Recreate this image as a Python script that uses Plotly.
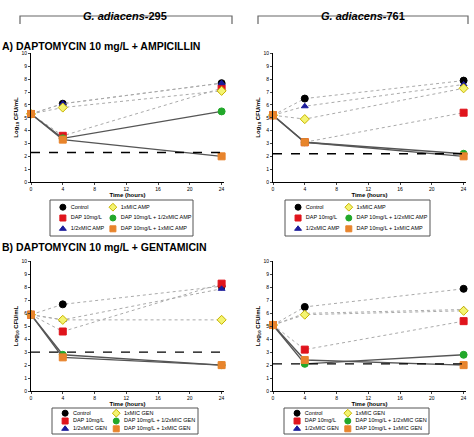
import plotly.graph_objects as go

times = [0, 4, 24]
series_names = ["Control", "DAP 10mg/L", "1/2xMIC {d}", "1xMIC {d}", "DAP 10mg/L + 1/2xMIC {d}", "DAP 10mg/L + 1xMIC {d}"]
# panel values: order Control, DAP, 1/2xMIC, 1xMIC, DAP+1/2, DAP+1x
a295 = [[5.3, 6.1, 7.7], [5.3, 3.6, 7.3], [5.3, 6.1, 7.7], [5.3, 5.8, 7.1], [5.3, 3.4, 5.5], [5.3, 3.3, 2.0]]
a761 = [[5.2, 6.5, 7.9], [5.2, 3.1, 5.4], [5.2, 5.9, 7.6], [5.2, 4.9, 7.3], [5.2, 3.1, 2.2], [5.2, 3.1, 2.0]]
b295 = [[5.9, 6.7, 8.1], [5.9, 4.6, 8.3], [5.9, 5.5, 7.9], [5.9, 5.5, 5.5], [5.9, 2.8, 2.0], [5.9, 2.6, 2.0]]
b761 = [[5.1, 6.5, 7.9], [5.1, 3.2, 5.4], [5.1, 6.0, 6.3], [5.1, 5.9, 6.2], [5.1, 2.1, 2.8], [5.1, 2.4, 2.0]]
limits = [2.3, 2.2, 3.0, 2.1]
hash_marks = [[7.3, 5.5], [5.4], [8.3], [5.4, 2.8]]
drugs = ["AMP", "AMP", "GEN", "GEN"]
panels = [a295, a761, b295, b761]

markers = ["circle", "square", "triangle-up", "diamond", "circle", "square"]
colors = ["#000000", "#e0141c", "#1c1c9c", "#f4f470", "#22a82a", "#e8842c"]
lines = ["dot", "dot", "dot", "dot", "solid", "solid"]
lcol = ["#aaaaaa"] * 4 + ["#555555"] * 2

H = 437
W = 474
def py(px):
    return 1 - px / H

xdoms = [(31/W, 224/W), (273/W, 466/W)]
ydoms = [(py(182), py(53)), (py(391), py(261))]
legend_boxes = [(50, 193, 200, 236), (285, 430, 200, 236), (52, 198, 408, 434), (284, 429, 408, 434)]

def mk(i, size=6):
    return dict(symbol=markers[i], color=colors[i], size=size,
                line=dict(color="#c8b400" if i == 3 else colors[i], width=1))

fig = go.Figure()
lay = {}
n = 0
for p in range(4):
    col = p % 2
    row = p // 2
    n += 1
    xa = "x" if n == 1 else f"x{n}"
    ya = "y" if n == 1 else f"y{n}"
    for i in range(6):
        fig.add_trace(go.Scatter(
            x=times, y=panels[p][i], mode="lines+markers", xaxis=xa, yaxis=ya,
            line=dict(color=lcol[i], dash=lines[i], width=1 if i < 4 else 1.4),
            marker=mk(i, 7 if i != 2 else 6), cliponaxis=False))
    fig.add_trace(go.Scatter(x=[0, 24], y=[limits[p]] * 2, mode="lines", xaxis=xa, yaxis=ya,
                             line=dict(color="black", dash="dash", width=1.3)))
    fig.add_trace(go.Scatter(x=[25.0] * len(hash_marks[p]), y=hash_marks[p], mode="text", text=["#"] * len(hash_marks[p]),
                             textfont=dict(size=6, color="black"), xaxis=xa, yaxis=ya, cliponaxis=False))
    axn = "" if n == 1 else str(n)
    lay[f"xaxis{axn}"] = dict(domain=xdoms[col], anchor=ya, range=[0, 24.3], tickvals=[0, 4, 8, 12, 16, 20, 24],
                              showline=True, linecolor="black", ticks="outside", ticklen=2, tickfont=dict(size=5),
                              showgrid=False, zeroline=False, automargin=False,
                              title=dict(text="<b>Time (hours)</b>", font=dict(size=6), standoff=1))
    lay[f"yaxis{axn}"] = dict(domain=ydoms[row], anchor=xa, range=[0, 10.05], tickvals=list(range(11)),
                              showline=True, linecolor="black", ticks="outside", ticklen=2, tickfont=dict(size=5),
                              showgrid=False, zeroline=False, automargin=False,
                              title=dict(text="<b>Log<sub>10</sub> CFU/mL</b>", font=dict(size=6), standoff=2))
    # manual legend in its own axes
    n += 1
    lxa, lya = f"x{n}", f"y{n}"
    x0, x1, y0, y1 = legend_boxes[p]
    lay[f"xaxis{n}"] = dict(domain=(x0/W, x1/W), anchor=lya, range=[0, 1], visible=False, fixedrange=True, automargin=False)
    lay[f"yaxis{n}"] = dict(domain=(py(y1), py(y0)), anchor=lxa, range=[0, 1], visible=False, fixedrange=True, automargin=False)
    for i in range(6):
        c = i // 3
        r = i % 3
        yy = 0.8 - r * 0.3
        xm = 0.09 + c * 0.35
        fig.add_trace(go.Scatter(x=[xm], y=[yy], mode="markers+text", xaxis=lxa, yaxis=lya,
                                 marker=mk(i, 6), text=["  " + series_names[i].format(d=drugs[p])],
                                 textposition="middle right", textfont=dict(size=5.5), cliponaxis=False))
    fig.add_shape(type="rect", xref="paper", yref="paper", x0=x0/W, x1=x1/W, y0=py(y1), y1=py(y0),
                  line=dict(color="#555", width=1))

fig.update_layout(width=W, height=H, margin=dict(l=0, r=0, t=0, b=0), plot_bgcolor="white", showlegend=False,
                  paper_bgcolor="white", font=dict(family="Arial, Liberation Sans", color="black"), **lay)

ann = [
    dict(x=125/W, y=py(8), text="<b><i>G. adiacens</i>-295</b>", font=dict(size=11)),
    dict(x=363/W, y=py(8), text="<b><i>G. adiacens</i>-761</b>", font=dict(size=11)),
    dict(x=0, y=py(38), text="<b>A) DAPTOMYCIN 10 mg/L + AMPICILLIN</b>", font=dict(size=10.5), xanchor="left"),
    dict(x=0, y=py(247), text="<b>B) DAPTOMYCIN 10 mg/L + GENTAMICIN</b>", font=dict(size=10.5), xanchor="left"),
]
for a in ann:
    a.update(xref="paper", yref="paper", showarrow=False)
    a.setdefault("xanchor", "center")
    fig.add_annotation(**a)

for x0, x1 in [(20, 232), (258, 468)]:
    fig.add_shape(type="path", xref="paper", yref="paper",
                  path=f"M {x0/W} {py(24)} L {x0/W} {py(16)} L {x1/W} {py(16)} L {x1/W} {py(24)}",
                  line=dict(color="#666", width=1.2))

fig.write_html("out.html", config={"displayModeBar": False},
               post_script="document.body.style.margin='0';document.body.style.overflow='hidden';")
